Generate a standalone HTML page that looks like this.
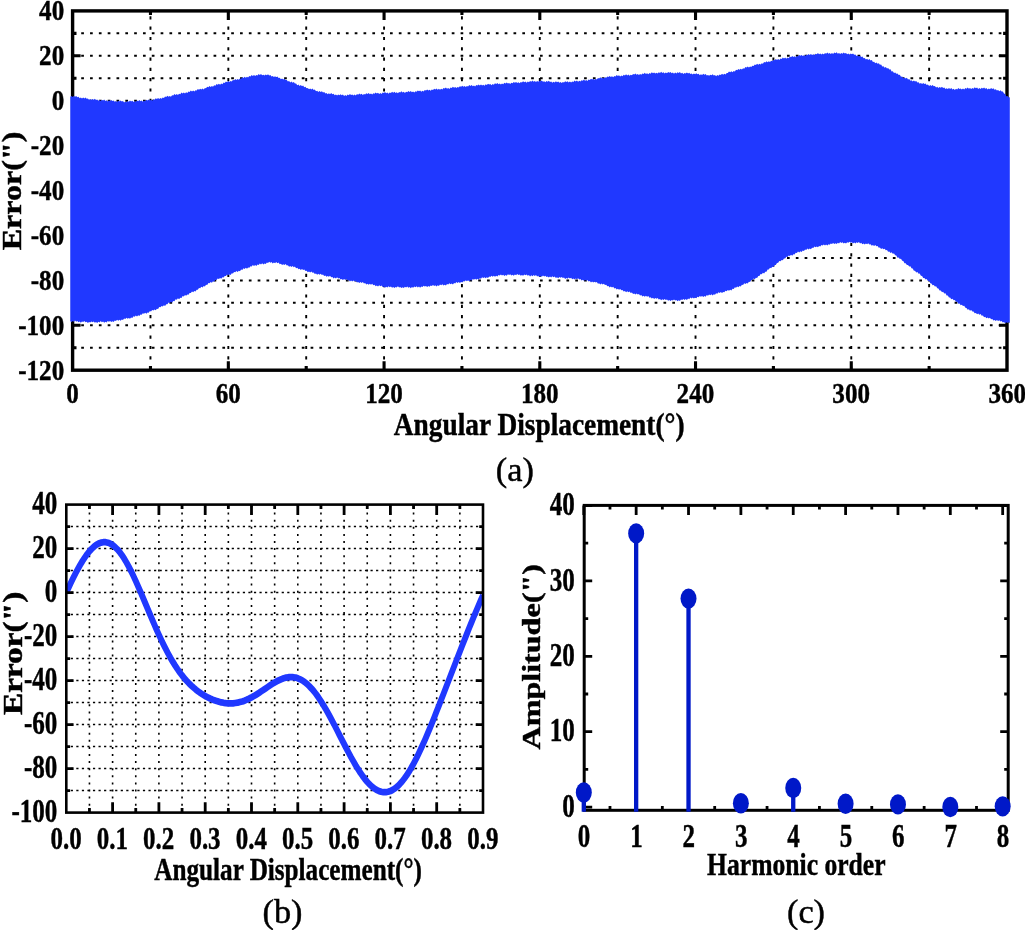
<!DOCTYPE html>
<html lang="en"><head><meta charset="utf-8"><title>Error figure</title>
<style>html,body{margin:0;padding:0;background:#fff}body{width:1025px;height:930px;overflow:hidden}svg{display:block}</style>
</head><body>
<svg width="1025" height="930" viewBox="0 0 1025 930" font-family="'Liberation Serif', 'Times New Roman', serif" fill="#000">
<path d="M150.47 10.90V370.20M228.33 10.90V370.20M306.20 10.90V370.20M384.07 10.90V370.20M461.93 10.90V370.20M539.80 10.90V370.20M617.67 10.90V370.20M695.53 10.90V370.20M773.40 10.90V370.20M851.27 10.90V370.20M929.13 10.90V370.20" stroke="#000" stroke-width="1.9" stroke-dasharray="3.2 7.1" stroke-dashoffset="4.9" fill="none"/>
<path d="M72.60 33.36H1007.00M72.60 55.81H1007.00M72.60 78.27H1007.00M72.60 100.73H1007.00M72.60 123.18H1007.00M72.60 145.64H1007.00M72.60 168.09H1007.00M72.60 190.55H1007.00M72.60 213.01H1007.00M72.60 235.46H1007.00M72.60 257.92H1007.00M72.60 280.38H1007.00M72.60 302.83H1007.00M72.60 325.29H1007.00M72.60 347.74H1007.00" stroke="#000" stroke-width="2.0" stroke-dasharray="2.7 6.122" stroke-dashoffset="0.2" fill="none"/>
<path d="M72.60 33.36h3.9M1007.00 33.36h-3.9M72.60 55.81h8.0M1007.00 55.81h-8.0M72.60 78.27h3.9M1007.00 78.27h-3.9M72.60 100.73h8.0M1007.00 100.73h-8.0M72.60 123.18h3.9M1007.00 123.18h-3.9M72.60 145.64h8.0M1007.00 145.64h-8.0M72.60 168.09h3.9M1007.00 168.09h-3.9M72.60 190.55h8.0M1007.00 190.55h-8.0M72.60 213.01h3.9M1007.00 213.01h-3.9M72.60 235.46h8.0M1007.00 235.46h-8.0M72.60 257.92h3.9M1007.00 257.92h-3.9M72.60 280.38h8.0M1007.00 280.38h-8.0M72.60 302.83h3.9M1007.00 302.83h-3.9M72.60 325.29h8.0M1007.00 325.29h-8.0M72.60 347.74h3.9M1007.00 347.74h-3.9M150.47 10.90v4.2M150.47 370.20v-4.2M228.33 10.90v9.0M228.33 370.20v-9.0M306.20 10.90v4.2M306.20 370.20v-4.2M384.07 10.90v9.0M384.07 370.20v-9.0M461.93 10.90v4.2M461.93 370.20v-4.2M539.80 10.90v9.0M539.80 370.20v-9.0M617.67 10.90v4.2M617.67 370.20v-4.2M695.53 10.90v9.0M695.53 370.20v-9.0M773.40 10.90v4.2M773.40 370.20v-4.2M851.27 10.90v9.0M851.27 370.20v-9.0M929.13 10.90v4.2M929.13 370.20v-4.2" stroke="#000" stroke-width="3.1" fill="none"/>
<rect x="72.6" y="10.9" width="934.40" height="359.30" fill="none" stroke="#000" stroke-width="3.4"/>
<path d="M70.3 96.7 71.5 96.0 72.6 97.1 73.8 95.9 75.0 96.7 76.2 95.9 77.3 97.3 78.5 96.8 79.7 98.2 80.8 97.5 82.0 98.6 83.2 97.5 84.3 98.4 85.5 97.5 86.7 98.8 87.9 98.4 89.0 99.8 90.2 99.1 91.4 100.1 92.5 99.0 93.7 99.8 94.9 98.8 96.0 100.1 97.2 99.4 98.4 100.8 99.6 100.0 100.7 100.9 101.9 99.7 103.1 100.5 104.2 99.5 105.4 100.9 106.6 100.3 107.7 101.4 108.9 100.2 110.1 100.9 111.3 99.9 112.4 101.1 113.6 100.4 114.8 101.8 115.9 101.0 117.1 102.0 118.3 100.7 119.4 101.5 120.6 100.5 121.8 101.6 123.0 101.0 124.1 102.4 125.3 101.4 126.5 102.3 127.6 101.0 128.8 101.7 130.0 100.6 131.1 101.6 132.3 100.8 133.5 102.0 134.7 101.1 135.8 102.0 137.0 100.5 138.2 101.2 139.3 100.1 140.5 101.3 141.7 100.6 142.8 101.7 144.0 100.5 145.2 101.2 146.4 99.8 147.5 100.6 148.7 99.4 149.9 100.6 151.0 99.7 152.2 100.7 153.4 99.3 154.5 99.7 155.7 98.2 156.9 99.0 158.1 97.9 159.2 98.9 160.4 97.9 161.6 98.7 162.7 97.4 163.9 98.0 165.1 96.4 166.2 97.0 167.4 95.7 168.6 96.8 169.8 95.9 170.9 96.7 172.1 95.3 173.3 95.6 174.4 94.1 175.6 95.0 176.8 94.1 177.9 95.1 179.1 93.8 180.3 94.2 181.5 92.6 182.6 93.4 183.8 92.4 185.0 93.4 186.1 92.3 187.3 93.1 188.5 91.5 189.6 91.9 190.8 90.5 192.0 91.6 193.2 90.6 194.3 91.5 195.5 90.2 196.7 90.6 197.8 89.0 199.0 89.7 200.2 88.7 201.3 89.6 202.5 88.6 203.7 89.4 204.9 87.9 206.0 88.2 207.2 86.7 208.4 87.3 209.5 86.1 210.7 87.0 211.9 86.0 213.0 86.8 214.2 85.3 215.4 85.7 216.6 84.1 217.7 84.8 218.9 83.8 220.1 84.7 221.2 83.5 222.4 84.2 223.6 82.6 224.7 82.9 225.9 81.4 227.1 82.2 228.3 81.1 229.4 82.1 230.6 80.9 231.8 81.4 232.9 79.9 234.1 80.3 235.3 78.9 236.4 79.9 237.6 78.9 238.8 79.8 240.0 78.5 241.1 78.8 242.3 77.3 243.5 77.9 244.6 76.8 245.8 77.8 247.0 76.8 248.1 77.5 249.3 76.1 250.5 76.4 251.7 74.9 252.8 75.9 254.0 75.0 255.2 76.0 256.3 74.9 257.5 75.6 258.7 74.1 259.8 74.9 261.0 74.1 262.2 75.3 263.4 74.7 264.5 75.6 265.7 74.5 266.9 75.3 268.0 74.2 269.2 75.5 270.4 74.9 271.5 76.4 272.7 75.9 273.9 77.0 275.1 76.2 276.2 77.2 277.4 76.5 278.6 78.1 279.7 77.7 280.9 79.3 282.1 78.5 283.2 79.6 284.4 78.7 285.6 80.1 286.8 79.9 287.9 81.5 289.1 81.1 290.3 82.4 291.4 81.6 292.6 82.8 293.8 82.1 294.9 83.6 296.1 83.4 297.3 85.2 298.5 84.6 299.6 85.9 300.8 85.1 302.0 86.2 303.1 85.6 304.3 87.2 305.5 86.8 306.6 88.5 307.8 87.9 309.0 89.3 310.2 88.4 311.3 89.4 312.5 88.5 313.7 90.0 314.8 89.6 316.0 91.3 317.2 90.7 318.3 91.9 319.5 90.9 320.7 92.0 321.9 91.2 323.0 92.6 324.2 92.1 325.4 93.6 326.5 93.0 327.7 94.3 328.9 93.3 330.0 94.2 331.2 93.0 332.4 94.2 333.6 93.7 334.7 95.2 335.9 94.4 337.1 95.6 338.2 94.5 339.4 95.2 340.6 94.2 341.7 95.3 342.9 94.6 344.1 95.9 345.3 95.1 346.4 95.9 347.6 94.5 348.8 95.2 349.9 94.0 351.1 95.1 352.3 94.4 353.4 95.5 354.6 94.5 355.8 95.4 357.0 94.1 358.1 94.7 359.3 93.5 360.5 94.4 361.6 93.7 362.8 95.0 364.0 93.9 365.1 94.6 366.3 93.2 367.5 94.0 368.7 93.1 369.8 94.3 371.0 93.6 372.2 94.5 373.3 93.2 374.5 93.8 375.7 92.5 376.8 93.6 378.0 92.8 379.2 94.1 380.4 93.1 381.5 93.9 382.7 92.4 383.9 93.1 385.0 92.1 386.2 93.3 387.4 92.6 388.5 93.7 389.7 92.5 390.9 93.1 392.1 91.8 393.2 92.7 394.4 91.8 395.6 93.1 396.7 92.3 397.9 93.2 399.1 91.9 400.2 92.5 401.4 91.3 402.6 92.5 403.8 91.8 404.9 92.9 406.1 91.7 407.3 92.3 408.4 91.0 409.6 91.9 410.8 91.1 411.9 92.3 413.1 91.5 414.3 92.4 415.5 91.2 416.6 91.8 417.8 90.4 419.0 91.2 420.1 90.4 421.3 91.7 422.5 90.7 423.6 91.4 424.8 89.9 426.0 90.5 427.2 89.4 428.3 90.6 429.5 89.8 430.7 90.8 431.8 89.6 433.0 90.1 434.2 88.8 435.3 89.6 436.5 88.6 437.7 89.7 438.9 88.8 440.0 89.8 441.2 88.8 442.4 89.5 443.5 88.0 444.7 88.6 445.9 87.6 447.0 88.8 448.2 87.9 449.4 88.9 450.6 87.5 451.7 88.0 452.9 86.7 454.1 87.7 455.2 86.9 456.4 88.0 457.6 86.9 458.7 87.5 459.9 86.2 461.1 86.8 462.3 85.7 463.4 86.7 464.6 86.0 465.8 87.1 466.9 85.9 468.1 86.5 469.3 85.1 470.4 86.0 471.6 85.1 472.8 86.3 474.0 85.5 475.1 86.4 476.3 85.0 477.5 85.5 478.6 84.4 479.8 85.4 481.0 84.5 482.1 85.6 483.3 84.8 484.5 85.7 485.7 84.3 486.8 84.9 488.0 83.7 489.2 84.6 490.3 83.9 491.5 85.2 492.7 84.1 493.8 84.8 495.0 83.3 496.2 84.1 497.4 83.1 498.5 84.3 499.7 83.5 500.9 84.6 502.0 83.4 503.2 84.2 504.4 82.7 505.5 83.5 506.7 82.4 507.9 83.6 509.1 82.9 510.2 83.9 511.4 82.7 512.6 83.3 513.7 82.0 514.9 82.8 516.1 81.9 517.2 83.0 518.4 82.3 519.6 83.2 520.8 82.0 521.9 82.5 523.1 81.2 524.3 82.2 525.4 81.4 526.6 82.7 527.8 81.6 528.9 82.3 530.1 81.0 531.3 81.7 532.5 80.6 533.6 81.7 534.8 81.0 536.0 82.1 537.1 81.1 538.3 81.8 539.5 80.5 540.6 81.3 541.8 80.5 543.0 81.8 544.2 81.2 545.3 82.2 546.5 81.1 547.7 81.8 548.8 80.7 550.0 82.1 551.2 81.5 552.3 82.7 553.5 81.7 554.7 82.4 555.9 81.2 557.0 82.2 558.2 81.4 559.4 82.7 560.5 82.0 561.7 83.1 562.9 82.0 564.0 82.5 565.2 81.3 566.4 82.1 567.6 81.2 568.7 82.4 569.9 81.6 571.1 82.5 572.2 81.4 573.4 81.9 574.6 80.5 575.7 81.4 576.9 80.6 578.1 81.8 579.3 80.8 580.4 81.6 581.6 80.2 582.8 80.8 583.9 79.6 585.1 80.8 586.3 79.9 587.4 81.0 588.6 79.6 589.8 80.1 591.0 78.7 592.1 79.5 593.3 78.7 594.5 79.9 595.6 78.8 596.8 79.4 598.0 77.9 599.1 78.5 600.3 77.3 601.5 78.4 602.7 77.6 603.8 78.5 605.0 77.3 606.2 77.8 607.3 76.4 608.5 77.1 609.7 76.0 610.8 77.0 612.0 76.3 613.2 77.2 614.4 76.0 615.5 76.6 616.7 75.1 617.9 76.0 619.0 75.2 620.2 76.4 621.4 75.5 622.5 76.3 623.7 74.8 624.9 75.4 626.1 74.3 627.2 75.5 628.4 74.6 629.6 75.8 630.7 74.7 631.9 75.3 633.1 73.9 634.2 74.6 635.4 73.5 636.6 74.7 637.8 73.9 638.9 75.0 640.1 73.9 641.3 74.7 642.4 73.4 643.6 73.9 644.8 72.8 645.9 74.0 647.1 73.2 648.3 74.3 649.5 73.1 650.6 73.7 651.8 72.3 653.0 73.2 654.1 72.4 655.3 73.6 656.5 72.7 657.6 73.6 658.8 72.2 660.0 72.9 661.2 71.7 662.3 73.0 663.5 72.3 664.7 73.5 665.8 72.4 667.0 73.3 668.2 71.9 669.3 72.8 670.5 71.9 671.7 73.3 672.9 72.6 674.0 73.7 675.2 72.6 676.4 73.5 677.5 72.2 678.7 73.1 679.9 72.1 681.0 73.4 682.2 72.8 683.4 74.0 684.6 72.9 685.7 73.6 686.9 72.4 688.1 73.5 689.2 72.7 690.4 74.1 691.6 73.5 692.7 74.6 693.9 73.5 695.1 74.3 696.3 73.2 697.4 74.3 698.6 73.8 699.8 75.2 700.9 74.2 702.1 75.0 703.3 73.8 704.4 74.8 705.6 74.1 706.8 75.6 708.0 74.9 709.1 75.8 710.3 74.7 711.5 75.3 712.6 74.3 713.8 75.6 715.0 74.9 716.1 76.2 717.3 75.1 718.5 75.7 719.7 74.4 720.8 75.0 722.0 73.8 723.2 74.8 724.3 73.8 725.5 74.5 726.7 72.9 727.8 73.1 729.0 71.6 730.2 72.2 731.4 71.2 732.5 72.2 733.7 70.9 734.9 71.4 736.0 69.8 737.2 70.2 738.4 68.9 739.5 69.7 740.7 68.8 741.9 69.6 743.1 68.3 744.2 68.7 745.4 67.0 746.6 67.6 747.7 66.5 748.9 67.5 750.1 66.4 751.2 67.1 752.4 65.7 753.6 66.1 754.8 64.6 755.9 65.1 757.1 63.8 758.3 64.8 759.4 63.8 760.6 64.6 761.8 63.2 762.9 63.7 764.1 62.1 765.3 62.6 766.5 61.3 767.6 62.3 768.8 61.3 770.0 62.1 771.1 60.8 772.3 61.3 773.5 59.7 774.6 60.2 775.8 59.0 777.0 60.0 778.2 59.1 779.3 60.0 780.5 58.6 781.7 59.1 782.8 57.6 784.0 58.5 785.2 57.6 786.3 58.7 787.5 57.6 788.7 58.2 789.9 56.6 791.0 57.2 792.2 56.0 793.4 57.1 794.5 56.3 795.7 57.2 796.9 55.9 798.0 56.5 799.2 55.0 800.4 55.8 801.6 54.9 802.7 56.1 803.9 55.2 805.1 56.1 806.2 54.7 807.4 55.3 808.6 54.0 809.7 54.9 810.9 53.9 812.1 55.1 813.3 54.3 814.4 55.2 815.6 53.8 816.8 54.3 817.9 53.1 819.1 54.2 820.3 53.4 821.4 54.5 822.6 53.5 823.8 54.4 825.0 53.1 826.1 53.7 827.3 52.5 828.5 53.7 829.6 52.9 830.8 54.1 832.0 53.1 833.1 53.9 834.3 52.5 835.5 53.3 836.7 52.3 837.8 53.7 839.0 53.0 840.2 54.1 841.3 53.0 842.5 53.7 843.7 52.6 844.8 53.6 846.0 52.9 847.2 54.3 848.4 53.6 849.5 54.7 850.7 53.5 851.9 54.3 853.0 53.4 854.2 54.8 855.4 54.5 856.5 56.0 857.7 55.4 858.9 56.6 860.1 55.8 861.2 56.9 862.4 56.4 863.6 58.2 864.7 57.9 865.9 59.4 867.1 58.8 868.2 59.9 869.4 59.1 870.6 60.5 871.8 60.1 872.9 61.9 874.1 61.8 875.3 63.3 876.4 62.6 877.6 63.8 878.8 63.2 879.9 64.8 881.1 64.5 882.3 66.4 883.5 66.2 884.6 67.7 885.8 67.1 887.0 68.4 888.1 67.9 889.3 69.5 890.5 69.3 891.6 71.4 892.8 71.3 894.0 73.0 895.2 72.5 896.3 73.8 897.5 73.4 898.7 75.0 899.8 74.8 901.0 76.7 902.2 76.5 903.3 78.2 904.5 77.5 905.7 78.6 906.9 77.8 908.0 79.4 909.2 79.1 910.4 80.8 911.5 80.2 912.7 81.4 913.9 80.4 915.0 81.6 916.2 80.9 917.4 82.4 918.6 82.2 919.7 83.7 920.9 83.0 922.1 84.1 923.2 83.0 924.4 84.1 925.6 83.5 926.7 85.0 927.9 84.6 929.1 86.0 930.3 85.0 931.4 86.0 932.6 85.1 933.8 86.3 934.9 85.9 936.1 87.4 937.3 86.8 938.4 88.0 939.6 87.0 940.8 87.8 942.0 86.8 943.1 88.1 944.3 87.6 945.5 89.0 946.6 88.2 947.8 89.1 949.0 87.9 950.1 88.9 951.3 88.0 952.5 89.4 953.7 88.8 954.8 90.0 956.0 88.8 957.2 89.4 958.3 88.1 959.5 89.1 960.7 88.4 961.8 89.6 963.0 88.6 964.2 89.4 965.4 88.0 966.5 88.7 967.7 87.6 968.9 88.7 970.0 88.1 971.2 89.1 972.4 88.0 973.5 88.7 974.7 87.3 975.9 88.3 977.1 87.5 978.2 88.9 979.4 88.1 980.6 89.0 981.7 87.7 982.9 88.5 984.1 87.5 985.2 88.7 986.4 88.1 987.6 89.4 988.8 88.5 989.9 89.3 991.1 88.1 992.3 89.1 993.4 88.3 994.6 89.8 995.8 89.2 996.9 90.6 998.1 90.0 999.3 91.2 1000.5 90.3 1001.6 91.6 1002.8 91.4 1004.0 93.6 1005.1 94.1 1006.3 96.2 1007.5 96.1 1008.6 97.6 1009.8 97.3 L1009.8 323.2 1008.6 322.1 1007.5 323.0 1006.3 322.2 1005.1 323.2 1004.0 321.9 1002.8 322.4 1001.6 320.9 1000.5 321.5 999.3 320.2 998.1 321.1 996.9 320.1 995.8 321.1 994.6 320.0 993.4 320.5 992.3 318.9 991.1 319.2 989.9 317.8 988.8 318.6 987.6 317.5 986.4 318.3 985.2 316.8 984.1 317.2 982.9 315.5 981.7 315.8 980.6 314.1 979.4 314.7 978.2 313.4 977.1 314.3 975.9 312.9 974.7 313.2 973.5 311.4 972.4 311.6 971.2 310.0 970.0 310.7 968.9 309.3 967.7 309.8 966.5 307.9 965.4 307.8 964.2 305.8 963.0 306.1 961.8 304.7 960.7 305.3 959.5 303.6 958.3 303.7 957.2 301.8 956.0 301.7 954.8 299.9 953.7 300.3 952.5 298.8 951.3 299.2 950.1 297.5 949.0 297.5 947.8 295.5 946.6 295.4 945.5 293.3 944.3 293.4 943.1 291.7 942.0 292.3 940.8 290.5 939.6 290.5 938.4 288.5 937.3 288.2 936.1 286.2 934.9 286.5 933.8 284.9 932.6 285.3 931.4 283.4 930.3 283.3 929.1 281.1 927.9 281.0 926.7 279.1 925.6 279.5 924.4 277.9 923.2 278.1 922.1 276.0 920.9 275.8 919.7 273.6 918.6 273.7 917.4 272.0 916.2 272.4 915.0 270.7 913.9 270.8 912.7 268.6 911.5 268.3 910.4 266.2 909.2 266.5 908.0 264.9 906.9 265.1 905.7 263.3 904.5 263.2 903.3 261.0 902.2 260.7 901.0 258.7 899.8 259.0 898.7 257.4 897.5 257.7 896.3 255.6 895.2 255.3 894.0 253.4 892.8 253.7 891.6 252.2 890.5 253.0 889.3 251.5 888.1 251.8 887.0 250.0 885.8 250.3 884.6 248.7 883.5 249.3 882.3 248.2 881.1 248.9 879.9 247.5 878.8 247.7 877.6 245.9 876.4 246.3 875.3 245.0 874.1 246.0 872.9 244.9 871.8 245.7 870.6 244.2 869.4 244.6 868.2 243.2 867.1 244.3 865.9 243.4 864.7 244.5 863.6 243.5 862.4 244.3 861.2 242.8 860.1 243.4 858.9 242.1 857.7 243.1 856.5 242.2 855.4 243.4 854.2 242.5 853.0 243.4 851.9 242.2 850.7 242.8 849.5 241.7 848.4 242.8 847.2 242.2 846.0 243.5 844.8 242.7 843.7 243.6 842.5 242.2 841.3 243.1 840.2 242.1 839.0 243.4 837.8 242.8 836.7 244.1 835.5 243.3 834.3 244.1 833.1 242.9 832.0 244.0 830.8 243.4 829.6 244.8 828.5 244.3 827.3 245.5 826.1 244.5 825.0 245.4 823.8 244.4 822.6 245.6 821.4 245.1 820.3 246.6 819.1 246.1 817.9 247.3 816.8 246.4 815.6 247.3 814.4 246.6 813.3 248.0 812.1 247.7 810.9 249.3 809.7 248.6 808.6 249.5 807.4 248.6 806.2 249.9 805.1 249.4 803.9 251.0 802.7 250.6 801.6 252.1 800.4 251.3 799.2 252.5 798.0 251.6 796.9 253.0 795.7 252.7 794.5 254.5 793.4 254.2 792.2 255.7 791.0 254.8 789.9 256.0 788.7 255.4 787.5 256.9 786.3 256.7 785.2 258.6 784.0 258.6 782.8 260.3 781.7 259.9 780.5 261.3 779.3 261.0 778.2 262.8 777.0 262.9 775.8 265.0 774.6 265.1 773.5 267.1 772.3 266.8 771.1 268.3 770.0 267.8 768.8 269.6 767.6 269.5 766.5 271.7 765.3 271.7 764.1 273.4 762.9 272.8 761.8 274.3 760.6 273.9 759.4 276.0 758.3 276.0 757.1 277.9 755.9 277.7 754.8 279.2 753.6 278.5 752.4 280.1 751.2 279.9 750.1 281.9 748.9 281.8 747.7 283.5 746.6 282.9 745.4 284.0 744.2 283.3 743.1 284.9 741.9 284.8 740.7 286.6 739.5 286.0 738.4 287.2 737.2 286.5 736.0 287.7 734.9 287.3 733.7 289.1 732.5 288.8 731.4 290.4 730.2 289.7 729.0 290.7 727.8 289.9 726.7 291.2 725.5 290.7 724.3 292.3 723.2 291.9 722.0 293.1 720.8 292.0 719.7 293.1 718.5 292.3 717.3 293.7 716.1 293.2 715.0 294.8 713.8 294.2 712.6 295.4 711.5 294.3 710.3 295.3 709.1 294.5 708.0 295.7 706.8 295.1 705.6 296.7 704.4 296.0 703.3 297.0 702.1 295.9 700.9 296.8 699.8 296.0 698.6 297.3 697.4 296.8 696.3 298.2 695.1 297.5 693.9 298.6 692.7 297.5 691.6 298.4 690.4 297.6 689.2 299.2 688.1 298.6 686.9 300.0 685.7 299.1 684.6 300.0 683.4 299.0 682.2 300.1 681.0 299.5 679.9 301.0 678.7 300.2 677.5 301.2 676.4 299.9 675.2 300.6 674.0 299.5 672.9 300.6 671.7 299.9 670.5 301.1 669.3 300.0 668.2 300.7 667.0 299.4 665.8 300.0 664.7 299.0 663.5 300.1 662.3 299.2 661.2 300.3 660.0 299.1 658.8 299.5 657.6 298.0 656.5 298.8 655.3 297.9 654.1 298.9 653.0 297.8 651.8 298.6 650.6 297.2 649.5 297.8 648.3 296.1 647.1 296.8 645.9 295.7 644.8 296.8 643.6 295.8 642.4 296.5 641.3 295.0 640.1 295.4 638.9 293.9 637.8 294.6 636.6 293.5 635.4 294.6 634.2 293.4 633.1 294.1 631.9 292.5 630.7 293.0 629.6 291.5 628.4 292.2 627.2 291.2 626.1 292.2 624.9 291.0 623.7 291.6 622.5 290.0 621.4 290.3 620.2 288.9 619.0 289.8 617.9 288.7 616.7 289.6 615.5 288.1 614.4 288.4 613.2 286.7 612.0 287.4 610.8 286.5 609.7 287.4 608.5 286.0 607.3 286.3 606.2 284.7 605.0 285.1 603.8 283.8 602.7 284.6 601.5 283.5 600.3 284.5 599.1 283.2 598.0 283.7 596.8 282.1 595.6 282.6 594.5 281.4 593.3 282.4 592.1 281.5 591.0 282.4 589.8 281.0 588.6 281.5 587.4 280.1 586.3 280.7 585.1 279.7 583.9 280.7 582.8 279.8 581.6 280.5 580.4 279.0 579.3 279.5 578.1 278.3 576.9 279.3 575.7 278.4 574.6 279.6 573.4 278.6 572.2 279.3 571.1 277.8 569.9 278.5 568.7 277.5 567.6 278.7 566.4 277.9 565.2 278.9 564.0 277.5 562.9 278.1 561.7 276.9 560.5 277.8 559.4 276.9 558.2 278.2 557.0 277.3 555.9 278.1 554.7 276.6 553.5 277.2 552.3 276.2 551.2 277.4 550.0 276.6 548.8 277.6 547.7 276.5 546.5 277.1 545.3 275.8 544.2 276.5 543.0 275.5 541.8 276.7 540.6 275.9 539.5 277.0 538.3 275.8 537.1 276.4 536.0 275.1 534.8 275.9 533.6 274.9 532.5 276.2 531.3 275.3 530.1 276.4 528.9 275.1 527.8 275.7 526.6 274.4 525.4 275.3 524.3 274.4 523.1 275.8 521.9 274.9 520.8 275.8 519.6 274.6 518.4 275.1 517.2 274.0 516.1 275.2 514.9 274.6 513.7 275.8 512.6 274.8 511.4 275.5 510.2 274.3 509.1 275.1 507.9 274.2 506.7 275.7 505.5 274.9 504.4 276.0 503.2 274.7 502.0 275.4 500.9 274.4 499.7 275.6 498.5 274.9 497.4 276.4 496.2 275.7 495.0 276.8 493.8 275.7 492.7 276.7 491.5 275.7 490.3 277.0 489.2 276.5 488.0 278.0 486.8 277.3 485.7 278.3 484.5 277.2 483.3 278.1 482.1 277.3 481.0 278.7 479.8 278.3 478.6 279.7 477.5 278.8 476.3 279.8 475.1 278.7 474.0 279.7 472.8 279.0 471.6 280.6 470.4 280.1 469.3 281.4 468.1 280.3 466.9 281.3 465.8 280.3 464.6 281.5 463.4 280.9 462.3 282.6 461.1 281.9 459.9 283.0 458.7 282.0 457.6 282.9 456.4 282.0 455.2 283.5 454.1 283.0 452.9 284.4 451.7 283.5 450.6 284.3 449.4 283.3 448.2 284.5 447.0 284.1 445.9 285.5 444.7 284.7 443.5 285.5 442.4 284.3 441.2 285.3 440.0 284.5 438.9 285.9 437.7 285.3 436.5 286.4 435.3 285.2 434.2 285.9 433.0 284.9 431.8 286.1 430.7 285.4 429.5 286.8 428.3 286.1 427.2 287.1 426.0 285.9 424.8 286.6 423.6 285.7 422.5 287.1 421.3 286.5 420.1 287.7 419.0 286.6 417.8 287.4 416.6 286.3 415.5 287.3 414.3 286.4 413.1 287.8 411.9 287.1 410.8 288.2 409.6 287.0 408.4 287.8 407.3 286.5 406.1 287.5 404.9 286.8 403.8 288.0 402.6 287.2 401.4 288.1 400.2 286.9 399.1 287.5 397.9 286.3 396.7 287.5 395.6 286.9 394.4 288.1 393.2 287.0 392.1 287.7 390.9 286.4 389.7 287.3 388.5 286.3 387.4 287.6 386.2 286.8 385.0 287.8 383.9 286.6 382.7 287.1 381.5 285.6 380.4 286.3 379.2 285.3 378.0 286.4 376.8 285.5 375.7 286.2 374.5 284.7 373.3 285.2 372.2 283.8 371.0 284.7 369.8 283.8 368.7 284.8 367.5 283.8 366.3 284.5 365.1 283.1 364.0 283.5 362.8 282.1 361.6 282.9 360.5 282.0 359.3 283.1 358.1 282.0 357.0 282.5 355.8 281.0 354.6 281.6 353.4 280.4 352.3 281.4 351.1 280.5 349.9 281.5 348.8 280.1 347.6 280.5 346.4 279.1 345.3 279.9 344.1 279.0 342.9 280.1 341.7 278.9 340.6 279.6 339.4 278.1 338.2 278.5 337.1 277.3 335.9 278.4 334.7 277.5 333.6 278.4 332.4 277.0 331.2 277.3 330.0 275.8 328.9 276.7 327.7 275.9 326.5 276.8 325.4 275.5 324.2 276.0 323.0 274.4 321.9 275.0 320.7 273.8 319.5 274.8 318.3 273.7 317.2 274.7 316.0 273.4 314.8 274.0 313.7 272.4 312.5 272.8 311.3 271.5 310.2 272.4 309.0 271.4 307.8 272.2 306.6 270.7 305.5 271.1 304.3 269.4 303.1 270.1 302.0 269.0 300.8 269.9 299.6 268.7 298.5 269.3 297.3 267.8 296.1 268.2 294.9 266.6 293.8 267.2 292.6 266.0 291.4 267.0 290.3 265.9 289.1 266.8 287.9 265.2 286.8 265.6 285.6 264.1 284.4 265.1 283.2 264.2 282.1 265.1 280.9 263.8 279.7 264.2 278.6 262.6 277.4 263.2 276.2 262.1 275.1 263.3 273.9 262.4 272.7 263.4 271.5 262.1 270.4 262.8 269.2 261.7 268.0 263.0 266.9 262.5 265.7 264.0 264.5 263.4 263.4 264.5 262.2 263.3 261.0 264.4 259.8 263.5 258.7 265.0 257.5 264.6 256.3 266.0 255.2 265.1 254.0 266.0 252.8 265.1 251.7 266.5 250.5 266.2 249.3 267.8 248.1 267.4 247.0 268.7 245.8 267.8 244.6 268.9 243.5 268.3 242.3 269.9 241.1 269.6 240.0 271.3 238.8 270.8 237.6 272.0 236.4 271.0 235.3 272.3 234.1 271.9 232.9 273.6 231.8 273.3 230.6 274.9 229.4 274.2 228.3 275.3 227.1 274.6 225.9 276.1 224.7 275.9 223.6 277.6 222.4 277.3 221.2 278.8 220.1 278.0 218.9 279.1 217.7 278.5 216.6 280.0 215.4 279.8 214.2 281.7 213.0 281.3 211.9 282.8 210.7 282.0 209.5 283.3 208.4 282.9 207.2 284.9 206.0 284.8 204.9 286.5 203.7 286.0 202.5 287.4 201.3 286.7 200.2 288.2 199.0 287.9 197.8 289.8 196.7 289.7 195.5 291.5 194.3 290.9 193.2 292.2 192.0 291.6 190.8 293.1 189.6 292.9 188.5 294.8 187.3 294.5 186.1 295.8 185.0 295.0 183.8 296.4 182.6 296.1 181.5 298.0 180.3 297.8 179.1 299.2 177.9 298.3 176.8 299.7 175.6 299.2 174.4 301.2 173.3 301.0 172.1 302.6 170.9 302.0 169.8 303.1 168.6 302.5 167.4 304.2 166.2 304.2 165.1 305.9 163.9 305.3 162.7 306.5 161.6 305.9 160.4 307.3 159.2 307.1 158.1 309.1 156.9 308.7 155.7 310.2 154.5 309.5 153.4 310.6 152.2 309.9 151.0 311.4 149.9 311.1 148.7 312.8 147.5 312.4 146.4 313.7 145.2 312.8 144.0 313.8 142.8 313.2 141.7 314.7 140.5 314.5 139.3 316.1 138.2 315.3 137.0 316.4 135.8 315.6 134.7 316.8 133.5 316.2 132.3 318.0 131.1 317.5 130.0 318.8 128.8 317.9 127.6 318.8 126.5 317.8 125.3 319.1 124.1 318.5 123.0 320.1 121.8 319.6 120.6 320.8 119.4 319.8 118.3 320.8 117.1 319.8 115.9 321.1 114.8 320.6 113.6 322.1 112.4 321.3 111.3 322.1 110.1 321.0 108.9 321.8 107.7 321.0 106.6 322.4 105.4 321.7 104.2 322.7 103.1 321.6 101.9 322.2 100.7 321.1 99.6 322.4 98.4 321.7 97.2 323.0 96.0 322.1 94.9 322.8 93.7 321.6 92.5 322.3 91.4 321.4 90.2 322.6 89.0 322.0 87.9 323.0 86.7 321.7 85.5 322.2 84.3 321.0 83.2 322.1 82.0 321.4 80.8 322.7 79.7 321.6 78.5 322.3 77.3 320.9 76.2 321.7 75.0 320.6 73.8 321.8 72.6 321.1 71.5 322.3 70.3 321.1Z" fill="#2038ff"/>
<text transform="translate(64.20 20.30) scale(0.8230 1)" font-size="30.5" font-weight="bold" text-anchor="end" stroke="#000" stroke-width="0.45">40</text>
<text transform="translate(64.20 65.21) scale(0.8230 1)" font-size="30.5" font-weight="bold" text-anchor="end" stroke="#000" stroke-width="0.45">20</text>
<text transform="translate(64.20 110.13) scale(0.8230 1)" font-size="30.5" font-weight="bold" text-anchor="end" stroke="#000" stroke-width="0.45">0</text>
<text transform="translate(64.20 155.04) scale(0.8230 1)" font-size="30.5" font-weight="bold" text-anchor="end" stroke="#000" stroke-width="0.45">-20</text>
<text transform="translate(64.20 199.95) scale(0.8230 1)" font-size="30.5" font-weight="bold" text-anchor="end" stroke="#000" stroke-width="0.45">-40</text>
<text transform="translate(64.20 244.86) scale(0.8230 1)" font-size="30.5" font-weight="bold" text-anchor="end" stroke="#000" stroke-width="0.45">-60</text>
<text transform="translate(64.20 289.77) scale(0.8230 1)" font-size="30.5" font-weight="bold" text-anchor="end" stroke="#000" stroke-width="0.45">-80</text>
<text transform="translate(64.20 334.69) scale(0.8230 1)" font-size="30.5" font-weight="bold" text-anchor="end" stroke="#000" stroke-width="0.45">-100</text>
<text transform="translate(64.20 379.60) scale(0.8230 1)" font-size="30.5" font-weight="bold" text-anchor="end" stroke="#000" stroke-width="0.45">-120</text>
<text transform="translate(72.50 403.00) scale(0.8230 1)" font-size="30.5" font-weight="bold" text-anchor="middle" stroke="#000" stroke-width="0.45">0</text>
<text transform="translate(228.23 403.00) scale(0.8230 1)" font-size="30.5" font-weight="bold" text-anchor="middle" stroke="#000" stroke-width="0.45">60</text>
<text transform="translate(383.97 403.00) scale(0.8230 1)" font-size="30.5" font-weight="bold" text-anchor="middle" stroke="#000" stroke-width="0.45">120</text>
<text transform="translate(539.70 403.00) scale(0.8230 1)" font-size="30.5" font-weight="bold" text-anchor="middle" stroke="#000" stroke-width="0.45">180</text>
<text transform="translate(695.43 403.00) scale(0.8230 1)" font-size="30.5" font-weight="bold" text-anchor="middle" stroke="#000" stroke-width="0.45">240</text>
<text transform="translate(851.17 403.00) scale(0.8230 1)" font-size="30.5" font-weight="bold" text-anchor="middle" stroke="#000" stroke-width="0.45">300</text>
<text transform="translate(1007.30 403.00) scale(0.8230 1)" font-size="30.5" font-weight="bold" text-anchor="middle" stroke="#000" stroke-width="0.45">360</text>
<text transform="translate(539.20 435.00) scale(0.8550 1)" font-size="32" font-weight="bold" text-anchor="middle" stroke="#000" stroke-width="0.45">Angular Displacement(°)</text>
<text transform="translate(21.40 191.00) rotate(-90) scale(1.1800 1)" font-size="27.2" font-weight="bold" text-anchor="middle" stroke="#000" stroke-width="0.45">Error(&quot;)</text>
<text transform="translate(514.90 480.60) scale(1.0350 1)" font-size="33.2" font-weight="normal" text-anchor="middle" stroke="#000" stroke-width="0.45">(a)</text>
<path d="M89.45 504.60V812.60M112.60 504.60V812.60M135.75 504.60V812.60M158.90 504.60V812.60M182.05 504.60V812.60M205.20 504.60V812.60M228.35 504.60V812.60M251.50 504.60V812.60M274.65 504.60V812.60M297.80 504.60V812.60M320.95 504.60V812.60M344.10 504.60V812.60M367.25 504.60V812.60M390.40 504.60V812.60M413.55 504.60V812.60M436.70 504.60V812.60M459.85 504.60V812.60" stroke="#000" stroke-width="1.6" stroke-dasharray="2.0 5.1" stroke-dashoffset="6.2" fill="none"/>
<path d="M66.30 526.60H483.00M66.30 548.60H483.00M66.30 570.60H483.00M66.30 592.60H483.00M66.30 614.60H483.00M66.30 636.60H483.00M66.30 658.60H483.00M66.30 680.60H483.00M66.30 702.60H483.00M66.30 724.60H483.00M66.30 746.60H483.00M66.30 768.60H483.00M66.30 790.60H483.00" stroke="#000" stroke-width="1.5" stroke-dasharray="2.2 3.351" stroke-dashoffset="1.1" fill="none"/>
<clipPath id="cb"><rect x="66.3" y="504.6" width="416.70" height="308.00"/></clipPath>
<g clip-path="url(#cb)"><path transform="scale(0.88 1)" d="M75.34 592.7 77.97 587.6 80.60 582.7 83.23 577.9 85.86 573.3 88.49 569.0 91.12 564.9 93.76 561.0 96.39 557.5 99.02 554.2 101.65 551.3 104.28 548.8 106.91 546.6 109.54 544.8 112.17 543.5 114.80 542.6 117.43 542.2 120.06 542.2 122.69 542.7 125.32 543.6 127.95 545.0 130.59 546.9 133.22 549.2 135.85 551.9 138.48 555.1 141.11 558.6 143.74 562.5 146.37 566.7 149.00 571.2 151.63 576.0 154.26 581.0 156.89 586.2 159.52 591.5 162.15 597.0 164.78 602.5 167.41 608.0 170.05 613.5 172.68 619.0 175.31 624.4 177.94 629.7 180.57 634.8 183.20 639.8 185.83 644.6 188.46 649.2 191.09 653.6 193.72 657.8 196.35 661.8 198.98 665.5 201.61 669.0 204.24 672.3 206.88 675.4 209.51 678.2 212.14 680.9 214.77 683.4 217.40 685.6 220.03 687.7 222.66 689.7 225.29 691.5 227.92 693.1 230.55 694.6 233.18 696.0 235.81 697.2 238.44 698.4 241.07 699.4 243.70 700.3 246.34 701.1 248.97 701.8 251.60 702.4 254.23 702.8 256.86 703.1 259.49 703.3 262.12 703.4 264.75 703.3 267.38 703.0 270.01 702.7 272.64 702.1 275.27 701.5 277.90 700.7 280.53 699.7 283.16 698.6 285.80 697.4 288.43 696.1 291.06 694.7 293.69 693.3 296.32 691.7 298.95 690.2 301.58 688.6 304.21 687.0 306.84 685.4 309.47 683.9 312.10 682.5 314.73 681.2 317.36 680.1 319.99 679.1 322.62 678.2 325.26 677.6 327.89 677.2 330.52 677.1 333.15 677.2 335.78 677.6 338.41 678.3 341.04 679.3 343.67 680.5 346.30 682.1 348.93 684.0 351.56 686.2 354.19 688.7 356.82 691.4 359.45 694.4 362.09 697.7 364.72 701.2 367.35 704.9 369.98 708.8 372.61 712.9 375.24 717.1 377.87 721.5 380.50 725.9 383.13 730.4 385.76 735.0 388.39 739.5 391.02 744.0 393.65 748.5 396.28 752.9 398.91 757.2 401.55 761.3 404.18 765.3 406.81 769.1 409.44 772.7 412.07 776.0 414.70 779.1 417.33 781.9 419.96 784.4 422.59 786.5 425.22 788.4 427.85 789.9 430.48 791.0 433.11 791.8 435.74 792.2 438.38 792.2 441.01 791.8 443.64 791.1 446.27 789.9 448.90 788.4 451.53 786.5 454.16 784.2 456.79 781.6 459.42 778.6 462.05 775.4 464.68 771.8 467.31 767.9 469.94 763.7 472.57 759.3 475.20 754.6 477.84 749.7 480.47 744.6 483.10 739.4 485.73 734.0 488.36 728.5 490.99 722.8 493.62 717.1 496.25 711.2 498.88 705.4 501.51 699.4 504.14 693.5 506.77 687.5 509.40 681.5 512.03 675.5 514.66 669.5 517.30 663.5 519.93 657.5 522.56 651.6 525.19 645.7 527.82 639.8 530.45 634.0 533.08 628.2 535.71 622.5 538.34 616.9 540.97 611.3 543.60 605.9 546.23 600.5 548.86 595.3" fill="none" stroke="#2038ff" stroke-width="6.7" stroke-linejoin="round"/></g>
<path d="M66.30 526.60h3.8M483.00 526.60h-3.8M66.30 548.60h7.3M483.00 548.60h-7.3M66.30 570.60h3.8M483.00 570.60h-3.8M66.30 592.60h7.3M483.00 592.60h-7.3M66.30 614.60h3.8M483.00 614.60h-3.8M66.30 636.60h7.3M483.00 636.60h-7.3M66.30 658.60h3.8M483.00 658.60h-3.8M66.30 680.60h7.3M483.00 680.60h-7.3M66.30 702.60h3.8M483.00 702.60h-3.8M66.30 724.60h7.3M483.00 724.60h-7.3M66.30 746.60h3.8M483.00 746.60h-3.8M66.30 768.60h7.3M483.00 768.60h-7.3M66.30 790.60h3.8M483.00 790.60h-3.8M89.45 504.60v4.5M89.45 812.60v-4.5M112.60 504.60v10.3M112.60 812.60v-10.3M135.75 504.60v4.5M135.75 812.60v-4.5M158.90 504.60v10.3M158.90 812.60v-10.3M182.05 504.60v4.5M182.05 812.60v-4.5M205.20 504.60v10.3M205.20 812.60v-10.3M228.35 504.60v4.5M228.35 812.60v-4.5M251.50 504.60v10.3M251.50 812.60v-10.3M274.65 504.60v4.5M274.65 812.60v-4.5M297.80 504.60v10.3M297.80 812.60v-10.3M320.95 504.60v4.5M320.95 812.60v-4.5M344.10 504.60v10.3M344.10 812.60v-10.3M367.25 504.60v4.5M367.25 812.60v-4.5M390.40 504.60v10.3M390.40 812.60v-10.3M413.55 504.60v4.5M413.55 812.60v-4.5M436.70 504.60v10.3M436.70 812.60v-10.3M459.85 504.60v4.5M459.85 812.60v-4.5" stroke="#000" stroke-width="2.8" fill="none"/>
<rect x="66.3" y="504.6" width="416.70" height="308.00" fill="none" stroke="#000" stroke-width="2.6"/>
<text transform="translate(57.40 514.20) scale(0.7490 1)" font-size="33.5" font-weight="bold" text-anchor="end" stroke="#000" stroke-width="0.45">40</text>
<text transform="translate(57.40 558.20) scale(0.7490 1)" font-size="33.5" font-weight="bold" text-anchor="end" stroke="#000" stroke-width="0.45">20</text>
<text transform="translate(57.40 602.20) scale(0.7490 1)" font-size="33.5" font-weight="bold" text-anchor="end" stroke="#000" stroke-width="0.45">0</text>
<text transform="translate(57.40 646.20) scale(0.7490 1)" font-size="33.5" font-weight="bold" text-anchor="end" stroke="#000" stroke-width="0.45">-20</text>
<text transform="translate(57.40 690.20) scale(0.7490 1)" font-size="33.5" font-weight="bold" text-anchor="end" stroke="#000" stroke-width="0.45">-40</text>
<text transform="translate(57.40 734.20) scale(0.7490 1)" font-size="33.5" font-weight="bold" text-anchor="end" stroke="#000" stroke-width="0.45">-60</text>
<text transform="translate(57.40 778.20) scale(0.7490 1)" font-size="33.5" font-weight="bold" text-anchor="end" stroke="#000" stroke-width="0.45">-80</text>
<text transform="translate(57.40 822.20) scale(0.7490 1)" font-size="33.5" font-weight="bold" text-anchor="end" stroke="#000" stroke-width="0.45">-100</text>
<text transform="translate(66.10 849.40) scale(0.7680 1)" font-size="32.5" font-weight="bold" text-anchor="middle" stroke="#000" stroke-width="0.45">0.0</text>
<text transform="translate(112.40 849.40) scale(0.7680 1)" font-size="32.5" font-weight="bold" text-anchor="middle" stroke="#000" stroke-width="0.45">0.1</text>
<text transform="translate(158.70 849.40) scale(0.7680 1)" font-size="32.5" font-weight="bold" text-anchor="middle" stroke="#000" stroke-width="0.45">0.2</text>
<text transform="translate(205.00 849.40) scale(0.7680 1)" font-size="32.5" font-weight="bold" text-anchor="middle" stroke="#000" stroke-width="0.45">0.3</text>
<text transform="translate(251.30 849.40) scale(0.7680 1)" font-size="32.5" font-weight="bold" text-anchor="middle" stroke="#000" stroke-width="0.45">0.4</text>
<text transform="translate(297.60 849.40) scale(0.7680 1)" font-size="32.5" font-weight="bold" text-anchor="middle" stroke="#000" stroke-width="0.45">0.5</text>
<text transform="translate(343.90 849.40) scale(0.7680 1)" font-size="32.5" font-weight="bold" text-anchor="middle" stroke="#000" stroke-width="0.45">0.6</text>
<text transform="translate(390.20 849.40) scale(0.7680 1)" font-size="32.5" font-weight="bold" text-anchor="middle" stroke="#000" stroke-width="0.45">0.7</text>
<text transform="translate(436.50 849.40) scale(0.7680 1)" font-size="32.5" font-weight="bold" text-anchor="middle" stroke="#000" stroke-width="0.45">0.8</text>
<text transform="translate(482.80 849.40) scale(0.7680 1)" font-size="32.5" font-weight="bold" text-anchor="middle" stroke="#000" stroke-width="0.45">0.9</text>
<text transform="translate(288.10 879.80) scale(0.7870 1)" font-size="32" font-weight="bold" text-anchor="middle" stroke="#000" stroke-width="0.45">Angular Displacement(°)</text>
<text transform="translate(21.60 653.40) rotate(-90) scale(1.2260 1)" font-size="27.2" font-weight="bold" text-anchor="middle" stroke="#000" stroke-width="0.45">Error(&quot;)</text>
<text transform="translate(282.50 923.00) scale(1.0350 1)" font-size="33.2" font-weight="normal" text-anchor="middle" stroke="#000" stroke-width="0.45">(b)</text>
<path d="M584.20 807.10h8M1008.20 807.10h-8M584.20 769.40h4M1008.20 769.40h-4M584.20 731.70h8M1008.20 731.70h-8M584.20 694.00h4M1008.20 694.00h-4M584.20 656.30h8M1008.20 656.30h-8M584.20 618.60h4M1008.20 618.60h-4M584.20 580.90h8M1008.20 580.90h-8M584.20 543.20h4M1008.20 543.20h-4M584.20 505.50h8M1008.20 505.50h-8M583.80 505.40v9.6M583.80 810.30v-9.6M609.98 505.40v4.2M609.98 810.30v-4.2M636.16 505.40v9.6M636.16 810.30v-9.6M662.34 505.40v4.2M662.34 810.30v-4.2M688.52 505.40v9.6M688.52 810.30v-9.6M714.70 505.40v4.2M714.70 810.30v-4.2M740.88 505.40v9.6M740.88 810.30v-9.6M767.06 505.40v4.2M767.06 810.30v-4.2M793.24 505.40v9.6M793.24 810.30v-9.6M819.42 505.40v4.2M819.42 810.30v-4.2M845.60 505.40v9.6M845.60 810.30v-9.6M871.78 505.40v4.2M871.78 810.30v-4.2M897.96 505.40v9.6M897.96 810.30v-9.6M924.14 505.40v4.2M924.14 810.30v-4.2M950.32 505.40v9.6M950.32 810.30v-9.6M976.50 505.40v4.2M976.50 810.30v-4.2M1002.68 505.40v9.6M1002.68 810.30v-9.6" stroke="#000" stroke-width="2.8" fill="none"/>
<rect x="584.2" y="505.4" width="424.00" height="304.90" fill="none" stroke="#000" stroke-width="3.0"/>
<path d="M583.80 811.80V792.55M636.16 811.80V533.40M688.52 811.80V598.62M740.88 811.80V803.18M793.24 811.80V787.95M845.60 811.80V803.78M897.96 811.80V804.39M950.32 811.80V806.95M1002.68 811.80V806.35" stroke="#0018c8" stroke-width="4.3" fill="none"/>
<g fill="#0018c8"><ellipse cx="583.80" cy="792.55" rx="8.0" ry="10.2"/><ellipse cx="636.16" cy="533.40" rx="8.0" ry="10.2"/><ellipse cx="688.52" cy="598.62" rx="8.0" ry="10.2"/><ellipse cx="740.88" cy="803.18" rx="8.0" ry="10.2"/><ellipse cx="793.24" cy="787.95" rx="8.0" ry="10.2"/><ellipse cx="845.60" cy="803.78" rx="8.0" ry="10.2"/><ellipse cx="897.96" cy="804.39" rx="8.0" ry="10.2"/><ellipse cx="950.32" cy="806.95" rx="8.0" ry="10.2"/><ellipse cx="1002.68" cy="806.35" rx="8.0" ry="10.2"/></g>
<text transform="translate(574.90 816.70) scale(0.7490 1)" font-size="33.5" font-weight="bold" text-anchor="end" stroke="#000" stroke-width="0.45">0</text>
<text transform="translate(574.90 741.30) scale(0.7490 1)" font-size="33.5" font-weight="bold" text-anchor="end" stroke="#000" stroke-width="0.45">10</text>
<text transform="translate(574.90 665.90) scale(0.7490 1)" font-size="33.5" font-weight="bold" text-anchor="end" stroke="#000" stroke-width="0.45">20</text>
<text transform="translate(574.90 590.50) scale(0.7490 1)" font-size="33.5" font-weight="bold" text-anchor="end" stroke="#000" stroke-width="0.45">30</text>
<text transform="translate(574.90 515.10) scale(0.7490 1)" font-size="33.5" font-weight="bold" text-anchor="end" stroke="#000" stroke-width="0.45">40</text>
<text transform="translate(584.10 847.00) scale(0.7350 1)" font-size="34" font-weight="bold" text-anchor="middle" stroke="#000" stroke-width="0.45">0</text>
<text transform="translate(636.46 847.00) scale(0.7350 1)" font-size="34" font-weight="bold" text-anchor="middle" stroke="#000" stroke-width="0.45">1</text>
<text transform="translate(688.82 847.00) scale(0.7350 1)" font-size="34" font-weight="bold" text-anchor="middle" stroke="#000" stroke-width="0.45">2</text>
<text transform="translate(741.18 847.00) scale(0.7350 1)" font-size="34" font-weight="bold" text-anchor="middle" stroke="#000" stroke-width="0.45">3</text>
<text transform="translate(793.54 847.00) scale(0.7350 1)" font-size="34" font-weight="bold" text-anchor="middle" stroke="#000" stroke-width="0.45">4</text>
<text transform="translate(845.90 847.00) scale(0.7350 1)" font-size="34" font-weight="bold" text-anchor="middle" stroke="#000" stroke-width="0.45">5</text>
<text transform="translate(898.26 847.00) scale(0.7350 1)" font-size="34" font-weight="bold" text-anchor="middle" stroke="#000" stroke-width="0.45">6</text>
<text transform="translate(950.62 847.00) scale(0.7350 1)" font-size="34" font-weight="bold" text-anchor="middle" stroke="#000" stroke-width="0.45">7</text>
<text transform="translate(1002.98 847.00) scale(0.7350 1)" font-size="34" font-weight="bold" text-anchor="middle" stroke="#000" stroke-width="0.45">8</text>
<text transform="translate(796.30 874.80) scale(0.8000 1)" font-size="32" font-weight="bold" text-anchor="middle" stroke="#000" stroke-width="0.45">Harmonic order</text>
<text transform="translate(539.70 656.80) rotate(-90) scale(1.2350 1)" font-size="26" font-weight="bold" text-anchor="middle" stroke="#000" stroke-width="0.45">Amplitude(&quot;)</text>
<text transform="translate(806.00 922.50) scale(1.0350 1)" font-size="33.2" font-weight="normal" text-anchor="middle" stroke="#000" stroke-width="0.45">(c)</text>
</svg>
</body></html>
